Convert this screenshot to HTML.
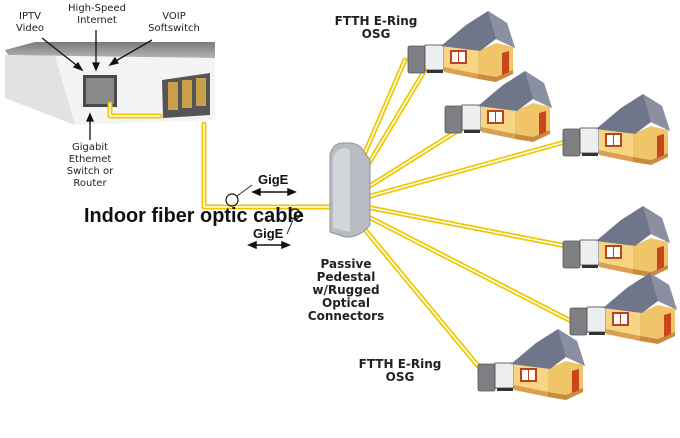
<!DOCTYPE html>
<html><head><style>
html,body{margin:0;padding:0;background:#fff;}
svg{display:block;}
</style></head><body>
<svg width="680" height="438" viewBox="0 0 680 438" xmlns="http://www.w3.org/2000/svg" style="font-family:'DejaVu Sans','Liberation Sans',sans-serif">
<defs>
<g id="house">
  <rect x="0" y="1" width="17" height="27" rx="2" fill="#7d7f82" stroke="#555" stroke-width="0.8"/>
  <rect x="17" y="0" width="19" height="25" fill="#eceef0" stroke="#444" stroke-width="0.8"/>
  <rect x="19" y="25" width="16" height="3" fill="#333"/>
  <polygon points="36,0 70,6 70,33 36,26" fill="#f7d584"/>
  <polygon points="36,22 70,29 70,34 36,27" fill="#d9a052"/>
  <polygon points="70,6 88,-2 105,2 105,28 88,36 70,33" fill="#f0c468"/>
  <polygon points="70,29 88,32 105,25 105,29 88,37 70,34" fill="#c98b40"/>
  <rect x="42" y="5" width="17" height="14" fill="#b8431c"/>
  <rect x="44" y="7" width="6" height="10" fill="#fff"/>
  <rect x="51" y="7" width="6" height="10" fill="#fff"/>
  <polygon points="94,8 101,6 101,27 94,30" fill="#c9461a"/>
  <polygon points="33,1 58,-20 80,-34 99,-22 107,3 88,-6 72,6" fill="#6f7689"/>
  <polygon points="80,-34 99,-22 107,3 88,-6" fill="#8a90a2"/>
</g>
<linearGradient id="top" x1="0" y1="0" x2="0" y2="1"><stop offset="0" stop-color="#7a7a7a"/><stop offset="1" stop-color="#b5b5b5"/></linearGradient>
</defs>

<!-- building -->
<polygon points="5,50 35,42 215,42 215,58 10,58" fill="url(#top)"/>
<polygon points="5,55 215,58 215,120 75,125 5,98" fill="#f4f4f4"/>
<polygon points="5,55 55,56 75,125 5,98" fill="#e2e2e2"/>
<rect x="83" y="75" width="34" height="32" fill="#4a4a4a"/>
<rect x="86" y="78" width="28" height="26" fill="#8a8a8a"/>
<polygon points="162,80 210,73 210,115 163,118" fill="#555"/>
<rect x="168" y="82" width="10" height="28" fill="#c9a14a"/>
<rect x="182" y="80" width="10" height="28" fill="#c9a14a"/>
<rect x="196" y="78" width="10" height="28" fill="#c9a14a"/>

<!-- label arrows -->
<g stroke="#111" stroke-width="1.3" fill="#111">
<line x1="42" y1="38" x2="80" y2="68"/><polygon points="82,70 74,67 78,63"/>
<line x1="96" y1="30" x2="96" y2="66"/><polygon points="96,70 93,63 99,63"/>
<line x1="152" y1="40" x2="114" y2="62"/><polygon points="110,65 115,58 118,63"/>
<line x1="90" y1="140" x2="90" y2="118"/><polygon points="90,114 87,121 93,121"/>
</g>
<g font-size="10" fill="#222" text-anchor="middle">
<text x="30" y="19">IPTV</text><text x="30" y="31">Video</text>
<text x="97" y="11">High-Speed</text><text x="97" y="23">Internet</text>
<text x="174" y="19">VOIP</text><text x="174" y="31">Softswitch</text>
<text x="90" y="150">Gigabit</text><text x="90" y="162">Ethemet</text>
<text x="90" y="174">Switch or</text><text x="90" y="186">Router</text>
</g>

<!-- fibers -->
<g fill="none" stroke-linecap="round" stroke-linejoin="round">
<g stroke="#f0c800" stroke-width="5">
<path d="M110,104 V116 H160"/>
<path d="M204,124 V207 H345"/>
<path d="M350,195 L425,70"/><path d="M354,196 L462,128"/>
<path d="M356,200 L565,142"/><path d="M356,205 L566,246"/>
<path d="M355,210 L573,322"/><path d="M352,214 L488,378"/>
<path d="M348,192 L405,60"/>
</g>
<g stroke="#fff" stroke-width="1.5">
<path d="M110,104 V116 H160"/>
<path d="M204,124 V207 H345"/>
<path d="M350,195 L425,70"/><path d="M354,196 L462,128"/>
<path d="M356,200 L565,142"/><path d="M356,205 L566,246"/>
<path d="M355,210 L573,322"/><path d="M352,214 L488,378"/>
<path d="M348,192 L405,60"/>
</g>
</g>

<!-- pedestal -->
<path d="M330,155 Q333,142 345,143 Q358,142 363,150 L370,160 L370,225 Q360,238 345,237 L330,232 Z" fill="#b8bcc2" stroke="#8f949a"/>
<path d="M333,158 Q336,148 346,148 L350,150 L350,232 L333,228 Z" fill="#d2d5da"/>

<!-- GigE -->
<circle cx="232" cy="200" r="6" fill="none" stroke="#111" stroke-width="1.2"/>
<line x1="237" y1="196" x2="252" y2="185" stroke="#333"/>
<circle cx="295" cy="214" r="5" fill="none" stroke="#111" stroke-width="1.2"/>
<line x1="293" y1="220" x2="287" y2="234" stroke="#333"/>
<g stroke="#111" stroke-width="1.5" fill="#111">
<line x1="258" y1="192" x2="290" y2="192"/><polygon points="253,192 260,189 260,195"/><polygon points="295,192 288,189 288,195"/>
<line x1="254" y1="245" x2="284" y2="245"/><polygon points="249,245 256,242 256,248"/><polygon points="289,245 282,242 282,248"/>
</g>
<g style="font-family:'Liberation Sans',sans-serif" font-weight="bold" fill="#111">
<text x="258" y="184" font-size="13">GigE</text>
<text x="253" y="238" font-size="13">GigE</text>
<text x="84" y="222" font-size="20" textLength="220" lengthAdjust="spacingAndGlyphs">Indoor fiber optic cable</text>
</g>
<g font-size="12" font-weight="bold" fill="#222" text-anchor="middle">
<text x="346" y="268">Passive</text><text x="346" y="281">Pedestal</text>
<text x="346" y="294">w/Rugged</text><text x="346" y="307">Optical</text>
<text x="346" y="320">Connectors</text>
<text x="376" y="25">FTTH E-Ring</text><text x="376" y="38">OSG</text>
<text x="400" y="368">FTTH E-Ring</text><text x="400" y="381">OSG</text>
</g>

<use href="#house" x="408" y="45"/>
<use href="#house" x="445" y="105"/>
<use href="#house" x="563" y="128"/>
<use href="#house" x="563" y="240"/>
<use href="#house" x="570" y="307"/>
<use href="#house" x="478" y="363"/>
</svg>
</body></html>
